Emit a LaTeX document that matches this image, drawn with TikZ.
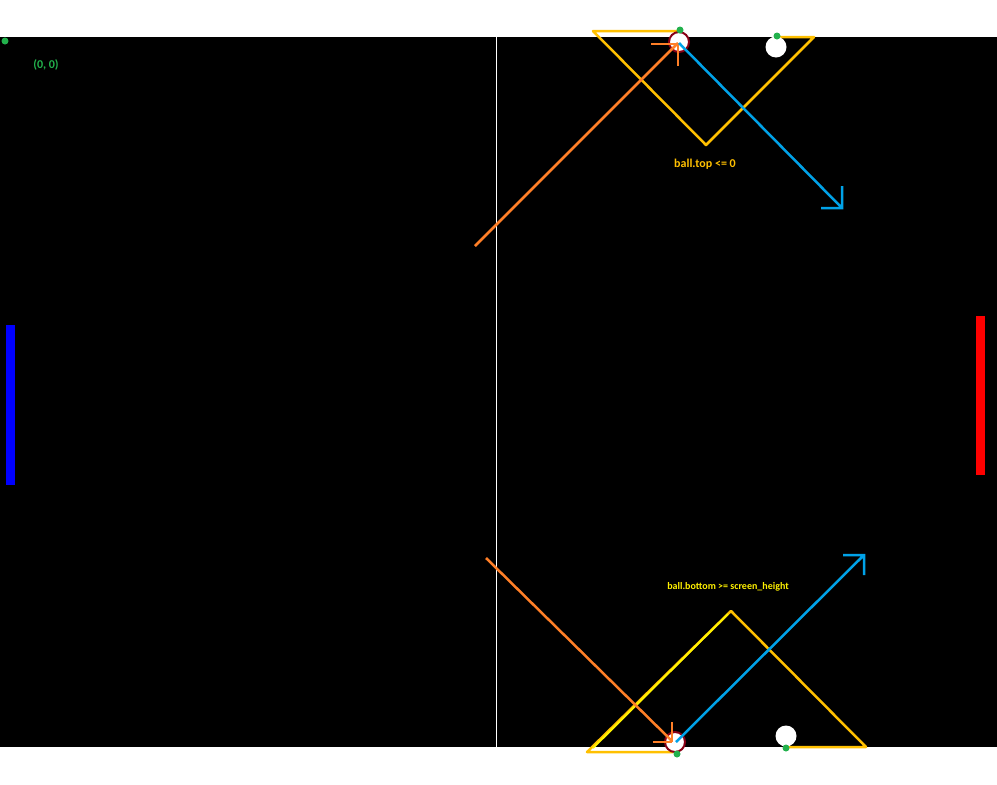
\documentclass[tikz,border=0pt]{standalone}
\usepackage{fontspec}
\setmainfont{Carlito}
\definecolor{ylw}{HTML}{FFC000}
\definecolor{org}{HTML}{FF7F27}
\definecolor{sky}{HTML}{00A2E8}
\definecolor{grn}{HTML}{22B14C}
\definecolor{dred}{HTML}{880015}
\begin{document}
\begin{tikzpicture}[x=1pt,y=-1pt,
  yl/.style={ylw,line width=2.5pt},
  ol/.style={org,line width=2.5pt},
  bl/.style={sky,line width=2.5pt},
  gdot/.style={circle,fill=grn,inner sep=0pt,minimum size=7pt},
  ball/.style={circle,fill=white,inner sep=0pt,minimum size=21pt},
  hit/.style={circle,fill=white,draw=dred,line width=2pt,inner sep=0pt,minimum size=20pt},
  lbl/.style={font=\bfseries,ylw}]
\useasboundingbox (0,0) rectangle (997,785);
\fill[black] (0,37) rectangle (997,747);
\draw[white,line width=1pt] (496,37) -- (496,747);
\node[gdot] (o) at (5,41) {};
\node[grn,font=\bfseries\large] (ol) at (46,65) {(0, 0)};
\fill[blue] (6,325) rectangle (15,485);
\fill[red] (976,316) rectangle (985,475);
% top
\draw[yl,line join=round] (680,31) -- (593,31) -- (706,145) -- (814,37) -- (777,37);
\node[ball] (b1) at (776,47) {};
\node[gdot] (g2) at (777,36) {};
\node[hit] (h1) at (679,42) {};
\node[gdot] (g1) at (680,30) {};
\draw[ol] (475,246) -- (678,43);
\draw[ol] (651,44) -- (678,44) (678,43) -- (678,66);
\draw[bl] (679,43) -- (842,208) (821,208) -- (842,208) -- (842,186);
\node[lbl,font=\bfseries\large] (t1) at (705,164) {ball.top <= 0};
% bottom
\draw[yl,line join=round] (673,752) -- (587,752) -- (731,611) -- (866,747) -- (786,747);
\draw[yellow,line width=2pt] (593,748) -- (728,614);
\node[ball] (b2) at (786,736) {};
\node[gdot] (g4) at (786,748) {};
\node[hit] (h2) at (675,742) {};
\node[gdot] (g3) at (677,754) {};
\draw[ol] (486,558) -- (672,741);
\draw[ol] (653,742) -- (672,742) (672,722) -- (672,742);
\draw[bl] (676,742) -- (864,555) (843,555) -- (864,555) -- (864,575);
\node[lbl,yellow] (t2) at (728,587) {ball.bottom >= screen\_height};
\end{tikzpicture}
\end{document}
